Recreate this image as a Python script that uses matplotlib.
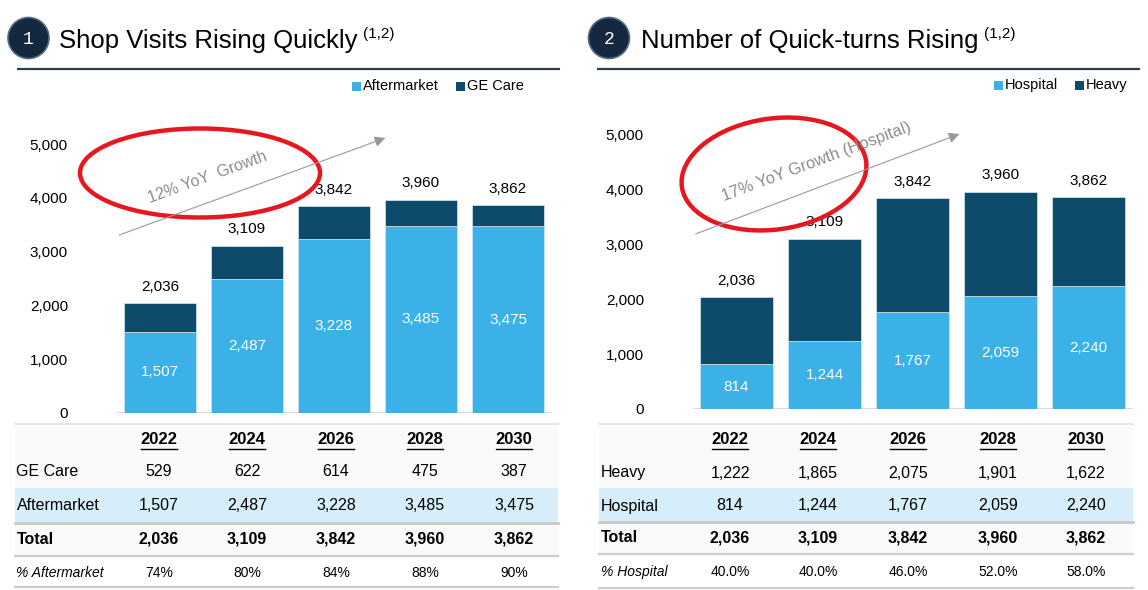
import matplotlib
matplotlib.use("Agg")
import matplotlib.pyplot as plt
from matplotlib.patches import Circle, Ellipse, Rectangle

# ---------------- data ----------------
years = ["2022", "2024", "2026", "2028", "2030"]
ge_care = [529, 622, 614, 475, 387]
aftermarket = [1507, 2487, 3228, 3485, 3475]
sv_total = [2036, 3109, 3842, 3960, 3862]
pct_aftermarket = ["74%", "80%", "84%", "88%", "90%"]

heavy = [1222, 1865, 2075, 1901, 1622]
hospital = [814, 1244, 1767, 2059, 2240]
qt_total = [2036, 3109, 3842, 3960, 3862]
pct_hospital = ["40.0%", "40.0%", "46.0%", "52.0%", "58.0%"]

yticks = [0, 1000, 2000, 3000, 4000, 5000]

# ---------------- style ----------------
LIGHT = "#3BB1E7"
DARK = "#0E4B6A"
NAVY = "#14293F"
FONT = "Liberation Sans"
plt.rcParams["font.family"] = [FONT, "DejaVu Sans"]

W, H = 1148, 590
fig = plt.figure(figsize=(W / 100, H / 100), dpi=100)
fig.patch.set_facecolor("white")


def frac(x0, x1, ytop, ybot):
    return [x0 / W, 1 - ybot / H, (x1 - x0) / W, (ybot - ytop) / H]


def bar_panel(rect, lower, upper, total, lower_col, upper_col):
    ax = fig.add_axes(rect)
    x = list(range(len(years)))
    ax.bar(x, lower, width=0.83, color=lower_col, edgecolor="#cfe9f5", linewidth=0.5, zorder=2)
    ax.bar(x, upper, bottom=lower, width=0.83, color=upper_col, edgecolor="#cfe9f5", linewidth=0.5, zorder=2)
    for xi, lo, t in zip(x, lower, total):
        ax.text(xi, lo / 2, f"{lo:,}", ha="center", va="center", color="white", fontsize=11, zorder=3)
        ax.annotate(f"{t:,}", (xi, t), xytext=(0, 12), textcoords="offset points",
                    ha="center", va="center", fontsize=11, color="black")
    ax.set_xlim(-0.5, len(years) - 0.5)
    ax.set_ylim(0, 5000)
    ax.set_yticks(yticks)
    ax.set_yticklabels([f"{v:,}" for v in yticks])
    ax.tick_params(axis="y", length=0, pad=35, labelsize=11)
    ax.set_xticks([])
    for s in ax.spines.values():
        s.set_visible(False)
    ax.axhline(0, color="#D9D9D9", lw=1.6, zorder=1)
    ax.patch.set_alpha(0)
    return ax


ax1 = bar_panel(frac(116.5, 551.5, 144, 413), aftermarket, ge_care, sv_total, LIGHT, DARK)
ax2 = bar_panel(frac(692.5, 1132.5, 135, 409), hospital, heavy, qt_total, LIGHT, DARK)

# ---------------- overlay in pixel coords ----------------
ov = fig.add_axes([0, 0, 1, 1])
ov.set_xlim(0, W)
ov.set_ylim(H, 0)
ov.axis("off")
ov.patch.set_alpha(0)


def header(cx, cy, num, title, tx, sx, line_x0, line_x1):
    ov.add_patch(Circle((cx, cy), 20.5, facecolor=NAVY, edgecolor="#566B80", lw=1.2))
    ov.text(cx, cy + 1, num, ha="center", va="center", color="white", fontsize=13,
            family=["Liberation Mono", "DejaVu Sans Mono"])
    ov.text(tx, cy + 3, title, ha="left", va="center", fontsize=18.5, color="black")
    ov.text(sx, cy - 4, "(1,2)", ha="left", va="center", fontsize=11, color="black")
    ov.plot([line_x0, line_x1], [69, 69], color="#2B3F50", lw=1.6, solid_capstyle="butt")


header(28.5, 38, "1", "Shop Visits Rising Quickly", 59, 363, 16.5, 560)
header(609, 38, "2", "Number of Quick-turns Rising", 641, 984, 597, 1140)


def legend(items, y):
    for sqx, txtx, lab, col in items:
        ov.add_patch(Rectangle((sqx, y - 4.5), 9, 9, facecolor=col, edgecolor="none"))
        ov.text(txtx, y, lab, ha="left", va="center", fontsize=10.5, color="black")


legend([(352, 363, "Aftermarket", LIGHT), (456, 467, "GE Care", DARK)], 86)
legend([(994, 1005, "Hospital", LIGHT), (1075, 1086, "Heavy", DARK)], 85)

# growth arrows + text
ov.annotate("", xy=(388, 137), xytext=(116.5, 236),
            arrowprops=dict(arrowstyle="-|>", color="#999999", lw=0.8, mutation_scale=16))
ov.text(207, 177, "12% YoY  Growth", rotation=20, ha="center", va="center",
        fontsize=11.5, color="#8C8C8C", rotation_mode="anchor")
ov.annotate("", xy=(962, 133), xytext=(693, 235),
            arrowprops=dict(arrowstyle="-|>", color="#999999", lw=0.8, mutation_scale=16))
ov.text(816, 162, "17% YoY Growth (Hospital)", rotation=20.5, ha="center", va="center",
        fontsize=11.9, color="#8C8C8C", rotation_mode="anchor")

# red ellipses
ov.add_patch(Ellipse((200, 173), 240, 89, fill=False, edgecolor="#E6181F", lw=3.2))
ov.add_patch(Ellipse((774, 174), 186, 111, angle=-8, fill=False, edgecolor="#E6181F", lw=3.2))


# ---------------- tables ----------------
def table(x0, x1, label_x, col_x, rows, ys, band):
    ov.add_patch(Rectangle((x0, band[0]), x1 - x0, band[1] - band[0], facecolor="#D6EEF9", edgecolor="none", zorder=0))
    ov.add_patch(Rectangle((x0, 426), x1 - x0, band[0] - 426, facecolor="#FAFAFA", edgecolor="none", zorder=0))
    ov.add_patch(Rectangle((x0, band[1] + 2), x1 - x0, ys["line2"] - band[1] - 3, facecolor="#FAFAFA", edgecolor="none", zorder=0))
    ov.plot([x0, x1], [424, 424], color="#E2E2E2", lw=1.2)
    ov.plot([x0, x1], [ys["line1"], ys["line1"]], color="#C8C8C8", lw=2.0)
    ov.plot([x0, x1], [ys["line2"], ys["line2"]], color="#CDCDCD", lw=1.6)
    ov.plot([x0, x1], [ys["line3"], ys["line3"]], color="#CDCDCD", lw=1.6)
    heads = []
    for cx, yr in zip(col_x, years):
        heads.append(ov.text(cx, ys["head"], yr, ha="center", va="center", fontsize=12,
                             fontweight="bold", color="black"))
    fig.canvas.draw()
    inv = ov.transData.inverted()
    for t in heads:
        bb = t.get_window_extent()
        (ax0, ay0), (ax1_, ay1) = inv.transform([(bb.x0, bb.y0), (bb.x1, bb.y1)])
        ov.plot([ax0, ax1_], [ys["head"] + 8.5, ys["head"] + 8.5], color="black", lw=1.0)
    for (lab, vals, style), y in zip(rows, ys["rows"]):
        kw = dict(fontsize=11.5, color="black")
        vkw = dict(kw)
        if style == "bold":
            kw["fontweight"] = "bold"
            vkw["fontweight"] = "bold"
        if style == "italic":
            kw = dict(fontsize=10, style="italic", color="black")
            vkw = dict(fontsize=10, color="black")
        ov.text(label_x, y, lab, ha="left", va="center", **kw)
        for cx, v in zip(col_x, vals):
            s = v if isinstance(v, str) else f"{v:,}"
            ov.text(cx, y, s, ha="center", va="center", **vkw)


table(15, 558, 16.5, [159, 247, 336, 425, 514],
      [("GE Care", ge_care, "normal"), ("Aftermarket", aftermarket, "normal"),
       ("Total", sv_total, "bold"), ("% Aftermarket", pct_aftermarket, "italic")],
      dict(head=440, rows=[472, 506, 539, 573], line1=523, line2=556, line3=587),
      (488, 522))

table(599, 1133, 601, [730, 818, 908, 998, 1086],
      [("Heavy", heavy, "normal"), ("Hospital", hospital, "normal"),
       ("Total", qt_total, "bold"), ("% Hospital", pct_hospital, "italic")],
      dict(head=440, rows=[473, 506, 538, 572], line1=522, line2=554, line3=588),
      (488, 521))

fig.savefig("out.png", dpi=100, facecolor="white")
